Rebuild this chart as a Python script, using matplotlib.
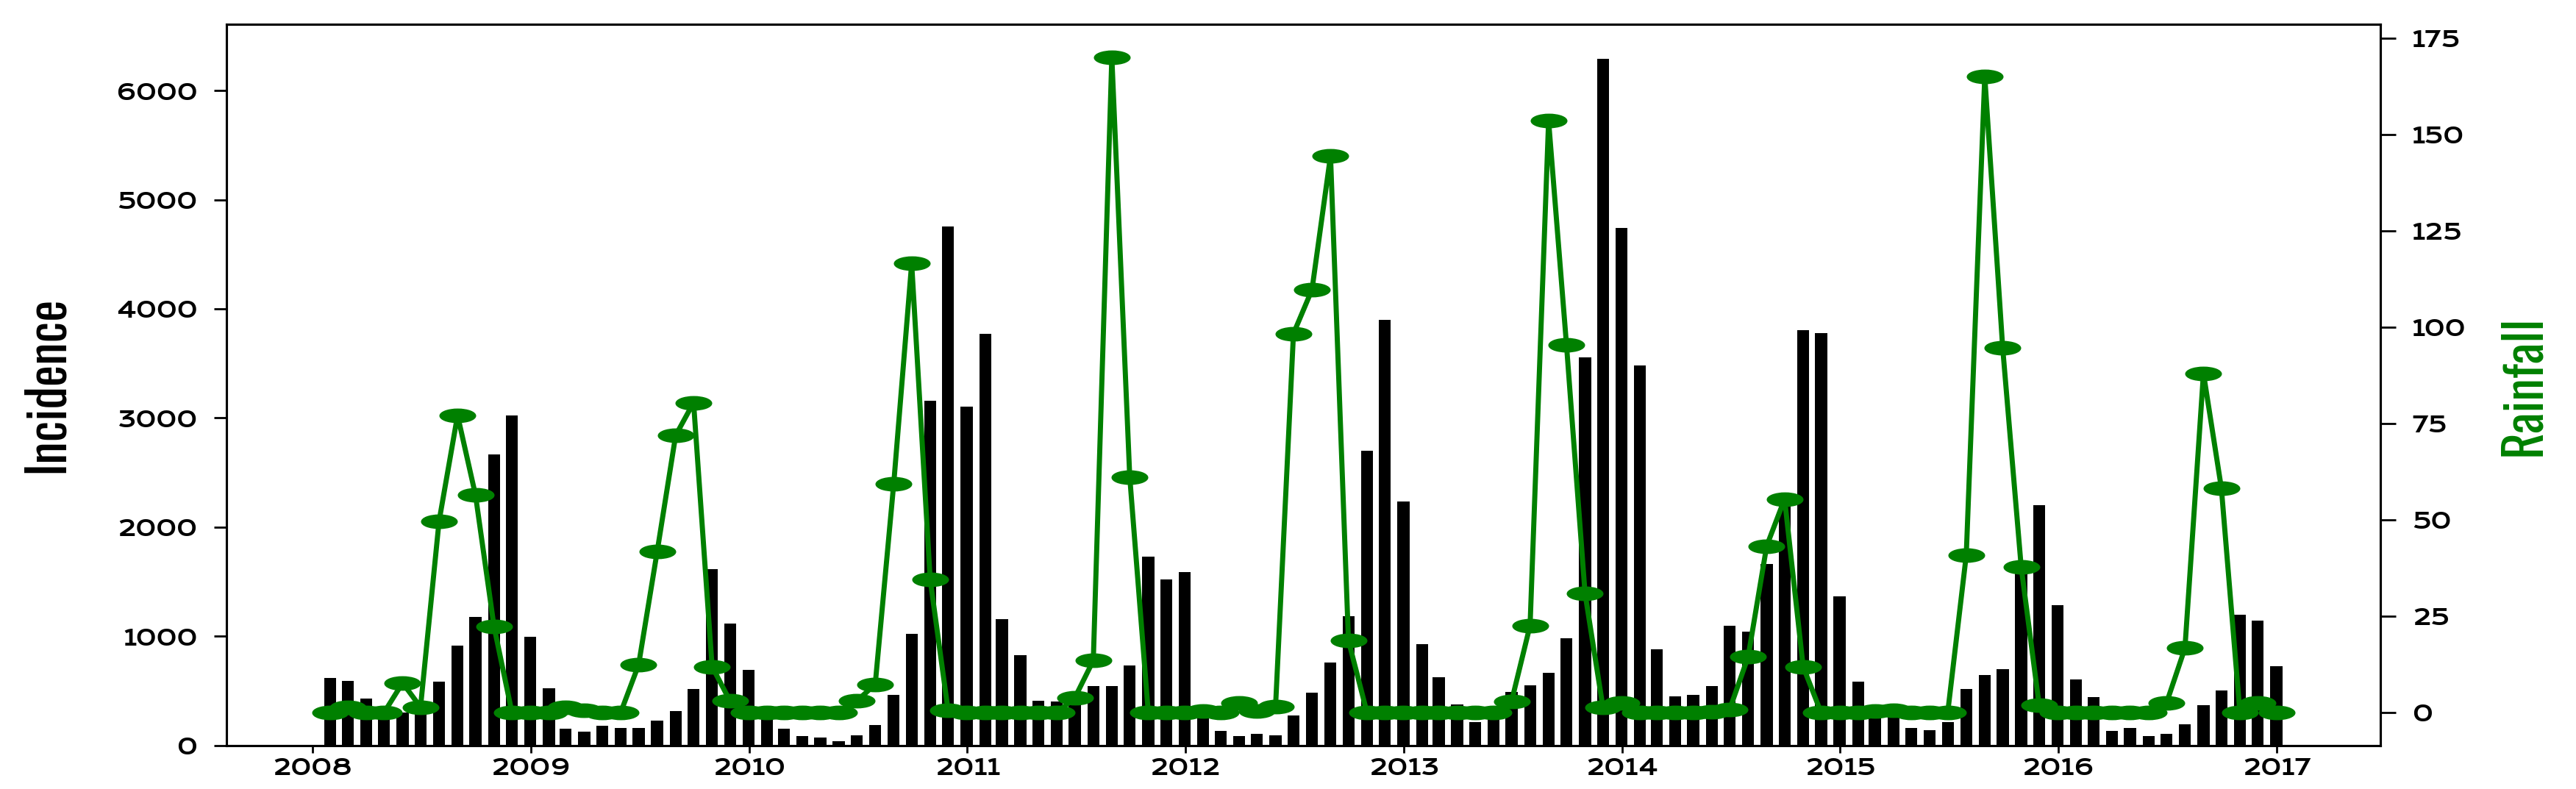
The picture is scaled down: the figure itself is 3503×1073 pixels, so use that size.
import numpy as np
import pandas as pd
import matplotlib
matplotlib.use('Agg')
import matplotlib.pyplot as plt
from matplotlib.path import Path
from matplotlib import font_manager

# monthly data, Jan 2008 .. Dec 2016 (month-end dates)
dates = pd.date_range('2008-01-31', periods=108, freq='ME')

incidence = [
    617, 590, 428, 300, 300, 300, 582, 912, 1176, 2666, 3021, 996,      # 2008
    521, 153, 126, 180, 157, 157, 225, 313, 518, 1614, 1115, 691,       # 2009
    300, 153, 83, 70, 36, 91, 184, 461, 1020, 3159, 4755, 3104,         # 2010
    3773, 1156, 826, 407, 400, 400, 543, 543, 731, 1730, 1517, 1587,    # 2011
    280, 130, 83, 104, 91, 272, 481, 757, 1182, 2698, 3897, 2232,       # 2012
    926, 622, 374, 211, 300, 491, 548, 663, 981, 3556, 6291, 4741,      # 2013
    3482, 880, 447, 461, 545, 1093, 1043, 1660, 2250, 3805, 3777, 1364, # 2014
    582, 292, 300, 157, 137, 212, 515, 644, 696, 1620, 2200, 1282,      # 2015
    603, 441, 130, 157, 83, 104, 192, 367, 502, 1195, 1142, 723,        # 2016
]

rainfall = [
    0, 1.4, 0, 0, 7.7, 1.4, 49.6, 77.1, 56.4, 22.3, 0, 0,               # 2008
    0, 1.4, 0.5, 0, 0, 12.4, 41.7, 71.9, 80.4, 11.9, 3.0, 0,            # 2009
    0, 0, 0, 0, 0, 3.0, 7.3, 59.4, 116.5, 34.5, 0.5, 0,                 # 2010
    0, 0, 0, 0, 0, 3.8, 13.5, 170, 61.1, 0, 0, 0,                       # 2011
    0.3, 0, 2.5, 0.3, 1.5, 98.3, 109.7, 144.4, 18.7, 0, 0, 0,           # 2012
    0, 0, 0, 0, 0, 2.9, 22.6, 153.5, 95.3, 30.9, 1.3, 2.4,              # 2013
    0, 0, 0, 0, 0.2, 0.8, 14.5, 43.2, 55.4, 11.9, 0, 0,                 # 2014
    0, 0.3, 0.6, 0, 0, 0, 40.8, 165, 94.6, 37.7, 1.9, 0,                # 2015
    0, 0, 0, 0, 0, 2.4, 16.7, 88, 58.2, 0, 2.4, 0,                      # 2016
]

names = {f.name for f in font_manager.fontManager.ttflist}


def pick(cands):
    for c in cands:
        if c in names:
            return c
    return 'DejaVu Sans'


# tall narrow font for axis titles, wide one for tick numbers
label_font = pick(['Oswald', 'Pathway Gothic One', 'Antonio', 'Fira Sans Extra Condensed',
                   'Fira Sans Condensed'])
tick_font = pick(['Krona One', 'Michroma', 'Syncopate'])

plt.rcParams['font.family'] = ['DejaVu Sans']

fig = plt.figure(figsize=(35.03, 10.73), dpi=100)
ax = fig.add_axes([0.0879, 0.0554, 0.8361, 0.9136])

ax.bar(dates, incidence, width=20, color='black')

ax2 = ax.twinx()
# wide ellipse marker
circ = Path.unit_circle()
ellipse = Path(circ.vertices * np.array([1.0, 0.38]), circ.codes)
ax2.plot(dates, rainfall, color='green', linewidth=5,
         marker=ellipse, markersize=35, markerfacecolor='green',
         markeredgecolor='green')

ax.set_ylabel('Incidence', fontsize=50, family=label_font)
ax2.set_ylabel('Rainfall', fontsize=50, family=label_font, color='green')
ax.yaxis.set_label_coords(-0.071, 0.501)
ax2.yaxis.set_label_coords(1.0546, 0.499)

for a in (ax, ax2):
    for s in a.spines.values():
        s.set_linewidth(2.2)
    a.tick_params(axis='x', labelsize=22, length=7, width=2, pad=4)
    for lab in a.get_yticklabels() + a.get_xticklabels():
        lab.set_family(tick_font)
ax.tick_params(axis='y', labelsize=22, length=12.5, width=2, pad=16)
ax2.tick_params(axis='y', labelsize=22, length=15, width=2, pad=16)

fig.savefig('out.png', dpi=100)
